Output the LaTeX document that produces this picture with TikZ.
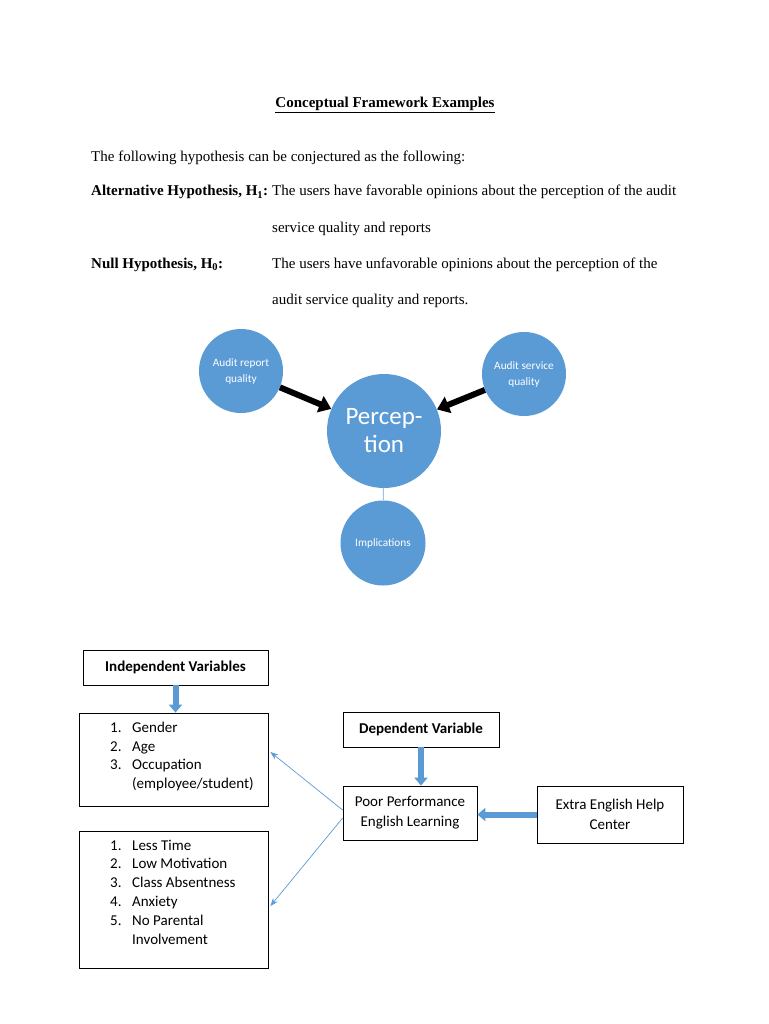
\documentclass[tikz,border=0pt]{standalone}
\usepackage{fontspec}
\setmainfont{Liberation Serif}
\newfontfamily\calfont{Carlito}
\usetikzlibrary{arrows.meta}
\definecolor{cblue}{HTML}{5B9BD5}
\definecolor{lblue}{HTML}{9DC3E6}
\tikzset{
  txt/.style={anchor=base west, inner sep=0pt, font=\fontsize{15}{18}\selectfont},
  circ/.style={circle, fill=cblue, draw=none, text=white, align=center, inner sep=0pt, font=\calfont\fontsize{11.3}{16}\selectfont},
  box/.style={draw=black, line width=0.8pt, inner sep=0pt},
  lst/.style={anchor=base west, inner sep=0pt, font=\calfont\fontsize{15}{18}\selectfont},
  bigarrow/.style={line width=6pt, black, -{Triangle[width=17pt,length=12pt]}},
  blockarrow/.style={line width=6pt, cblue, -{Triangle[width=13pt,length=8pt]}},
  thinarrow/.style={line width=0.7pt, cblue, -{Stealth[width=6pt,length=8pt]}},
}
\begin{document}
\begin{tikzpicture}[x=1pt,y=-1pt]
\useasboundingbox (0,0) rectangle (768,1024);
\fill[white] (0,0) rectangle (768,1024);

% header text
\node[anchor=base, inner sep=0pt, font=\fontsize{15}{18}\selectfont\bfseries] (title) at (385,108) {\underline{Conceptual Framework Examples}};
\node[txt] (l1) at (91,162) {The following hypothesis can be conjectured as the following:};
\node[txt] (l2a) at (91,196) {\textbf{Alternative Hypothesis, H\textsubscript{1}:}};
\node[txt] (l2b) at (272,196) {The users have favorable opinions about the perception of the audit};
\node[txt] (l3) at (272,233) {service quality and reports};
\node[txt] (l4a) at (91,268) {\textbf{Null Hypothesis, H\textsubscript{0}:}};
\node[txt] (l4b) at (272,268) {The users have unfavorable opinions about the perception of the};
\node[txt] (l5) at (272,304) {audit service quality and reports.};

% circles
\node[circ, minimum size=84pt] (arq) at (241,371) {Audit report\\quality};
\node[circ, minimum size=84pt] (asq) at (524,374) {Audit service\\quality};
\node[circ, minimum size=114pt, font=\calfont\fontsize{25}{28}\selectfont] (perc) at (384,431) {Percep-\\tion};
\node[circ, minimum size=85pt] (impl) at (383,543) {Implications};
\draw[bigarrow] (arq) -- (perc);
\draw[bigarrow] (asq) -- (perc);
\draw[lblue, line width=1pt] (perc) -- (impl);

% boxes
\node[box, minimum width=185pt, minimum height=35pt, font=\calfont\bfseries\fontsize{15}{17}\selectfont] (iv) at (175.5,667.5) {Independent Variables};
\node[box, minimum width=189pt, minimum height=93pt] (b1) at (173.5,759.5) {};
\node[box, minimum width=189pt, minimum height=137pt] (b2) at (173.5,899.5) {};
\node[box, minimum width=156pt, minimum height=35pt, font=\calfont\bfseries\fontsize{15}{17}\selectfont] (dv) at (421,729.5) {Dependent Variable};
\node[box, minimum width=134pt, minimum height=54pt, align=center, font=\calfont\fontsize{15}{20}\selectfont] (ppe) at (410,813) {Poor Performance\\English Learning};
\node[box, minimum width=146pt, minimum height=57pt, align=center, font=\calfont\fontsize{15}{20}\selectfont] (ext) at (610,814.5) {Extra English Help\\Center};

% list 1
\node[lst] (n1) at (110,732) {1.};  \node[lst] (t1) at (132,732) {Gender};
\node[lst] (n2) at (110,751) {2.};  \node[lst] (t2) at (132,751) {Age};
\node[lst] (n3) at (110,769) {3.};  \node[lst] (t3) at (132,769) {Occupation};
\node[lst] (t4) at (132,788) {(employee/student)};

% list 2
\node[lst] (m1) at (110,850) {1.};  \node[lst] (s1) at (132,850) {Less Time};
\node[lst] (m2) at (110,868) {2.};  \node[lst] (s2) at (132,868) {Low Motivation};
\node[lst] (m3) at (110,887) {3.};  \node[lst] (s3) at (132,887) {Class Absentness};
\node[lst] (m4) at (110,906) {4.};  \node[lst] (s4) at (132,906) {Anxiety};
\node[lst] (m5) at (110,925) {5.};  \node[lst] (s5) at (132,925) {No Parental};
\node[lst] (s6) at (132,944) {Involvement};

% connectors
\draw[blockarrow] (iv.south) -- (iv.south |- b1.north);
\draw[blockarrow] (dv.south) -- (dv.south |- ppe.north);
\draw[blockarrow] (ext.west) -- (ext.west -| ppe.east);
\draw[thinarrow] ([yshift=3pt]ppe.west) -- ([xshift=2pt,yshift=7.5pt]b1.east);
\draw[thinarrow] ([yshift=-5pt]ppe.west) -- ([xshift=2pt,yshift=-6.5pt]b2.east);
\end{tikzpicture}
\end{document}
